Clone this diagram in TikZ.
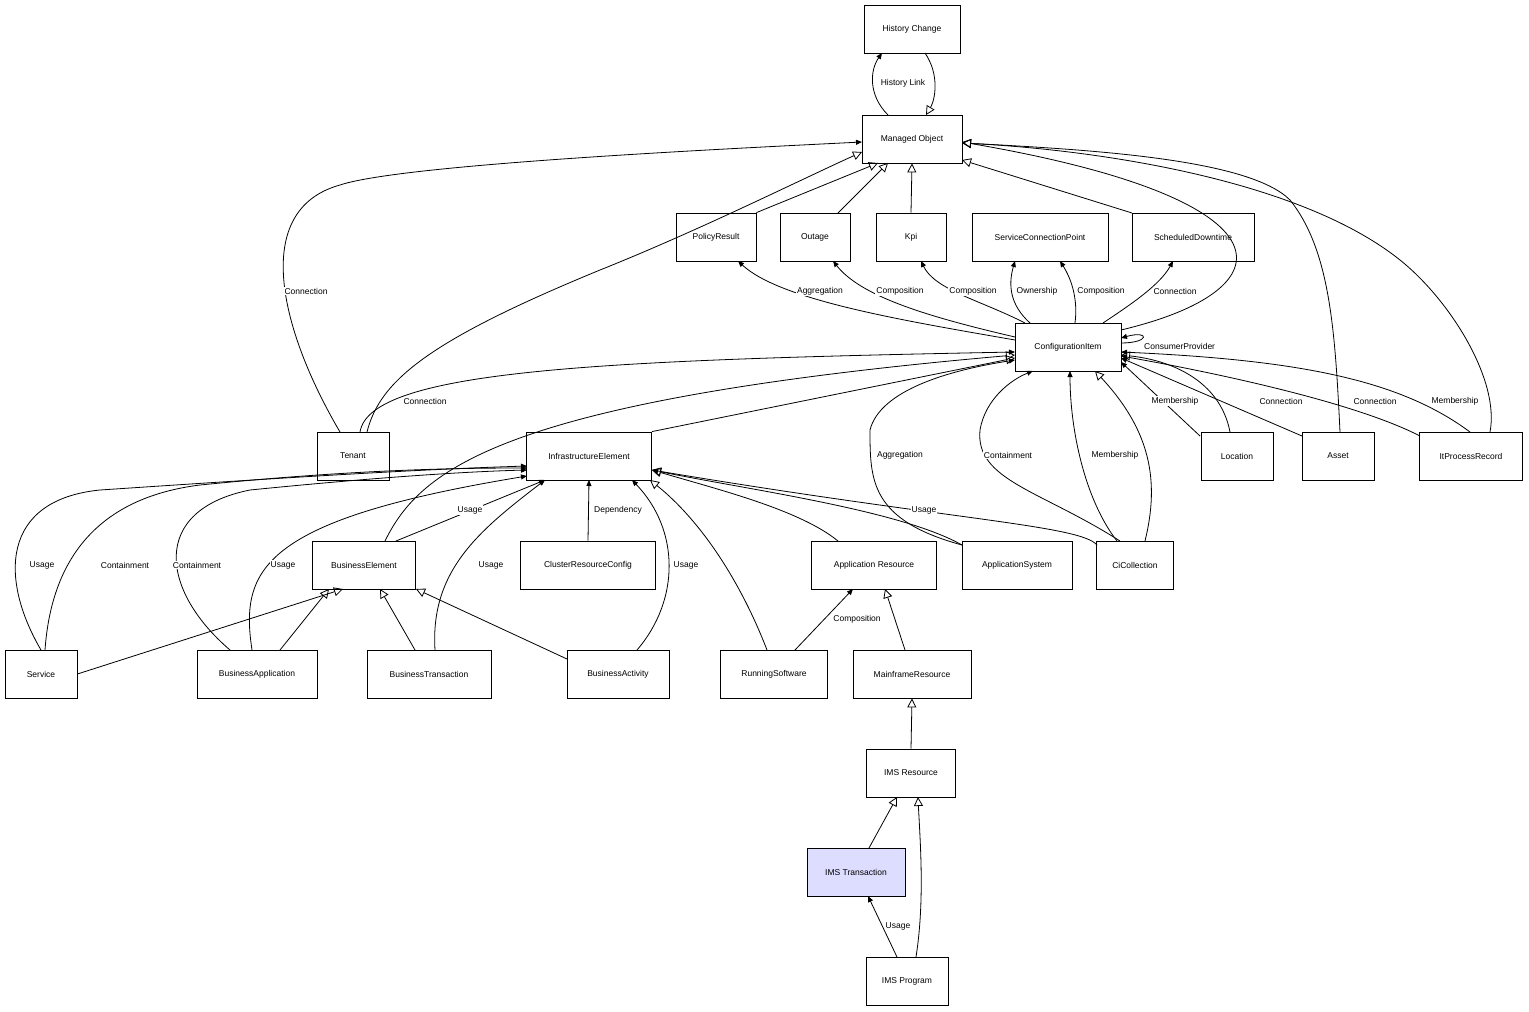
\documentclass[tikz,border=0pt]{standalone}
\usepackage{fontspec}
\setmainfont{Liberation Sans}
\usetikzlibrary{arrows.meta}
\begin{document}
\begin{tikzpicture}[x=1pt,y=-1pt,
    cls/.style={draw, thick, fill=white, minimum height=48pt, inner sep=0pt, font=\fontsize{8.5}{10}\selectfont},
    inh/.style={-{Triangle[open,length=9pt,width=9pt]}, thick},
    assoc/.style={-{Triangle[length=6pt,width=5pt]}, thick},
    lbl/.style={font=\fontsize{8.5}{10}\selectfont, fill=white, inner sep=1pt}]
    \useasboundingbox (0,0) rectangle (1529,1012);
    % Klassen
    \foreach \name/\x/\y/\w/\txt in {HC/912/29/96/History Change, MO/912/139/100/Managed Object,
        PR/716/237/80/PolicyResult, OU/815/237/70/Outage, KPI/911/237/70/Kpi,
        SCP/1040/237/136/ServiceConnectionPoint, SD/1193/237/122/ScheduledDowntime,
        CI/1068/347/106/ConfigurationItem, TE/353/456/72/Tenant, IE/589/456/125/InfrastructureElement,
        LO/1237/456/72/Location, AS/1338/456/72/Asset, IPR/1471/456/103/ItProcessRecord,
        BE/364/565/103/BusinessElement, CRC/588/565/135/ClusterResourceConfig,
        AR/874/565/125/Application Resource, ASY/1017/565/110/ApplicationSystem, CC/1135/565/77/CiCollection,
        SV/41/674/72/Service, BA/257/674/120/BusinessApplication, BT/429/674/124/BusinessTransaction,
        BAC/618/674/102/BusinessActivity, RS/774/674/107/RunningSoftware, MR/912/674/118/MainframeResource,
        IR/911/773/89/IMS Resource, IP/907/981/82/IMS Program} {
        \node[cls, minimum width=\w pt] (\name) at (\x,\y) {\txt};
    }
    \node[cls, minimum width=98pt, fill={rgb,255:red,221;green,221;blue,255}] (IT) at (856,872) {IMS Transaction};

    % Managed Object
    \draw[assoc] (888,115) .. controls (868,95) and (870,70) .. (882,53);
    \draw[inh] (925,53) .. controls (940,75) and (935,100) .. (926,115);
    \node[lbl] at (903,83) {History Link};
    \draw[inh] (PR.north east) -- (878,163);
    \draw[inh] (838,213) -- (888,163);
    \draw[inh] (KPI.north) -- (MO.south);
    \draw[inh] (1132,213) -- (962,160);
    \draw[assoc] (340,432) .. controls (280,330) and (250,210) .. (340,185) .. controls (400,165) and (700,150) .. (862,142);
    \node[lbl] at (306,291) {Connection};
    \draw[inh] (367,432) .. controls (380,380) and (430,340) .. (600,270) .. controls (700,230) and (800,180) .. (862,152);
    \draw[inh] (1121,330) .. controls (1290,290) and (1300,200) .. (962,142);
    \draw[inh] (1340,432) .. controls (1335,330) and (1330,250) .. (1290,200) .. controls (1250,160) and (1100,150) .. (962,143);
    \draw[inh] (1490,432) .. controls (1500,380) and (1450,300) .. (1400,260) .. controls (1300,180) and (1100,150) .. (962,143);

    % ConfigurationItem
    \draw[assoc] (1015,340) .. controls (900,320) and (780,300) .. (738,261);
    \node[lbl] at (820,291) {Aggregation};
    \draw[assoc] (1015,337) .. controls (920,315) and (860,295) .. (833,261);
    \node[lbl] at (900,291) {Composition};
    \draw[assoc] (1025,323) .. controls (980,300) and (935,290) .. (921,261);
    \node[lbl] at (973,291) {Composition};
    \draw[assoc] (1030,323) .. controls (1010,305) and (1008,285) .. (1015,261);
    \node[lbl] at (1037,291) {Ownership};
    \draw[assoc] (1075,323) .. controls (1078,300) and (1072,280) .. (1060,261);
    \node[lbl] at (1101,291) {Composition};
    \draw[assoc] (1103,323) .. controls (1130,305) and (1160,285) .. (1173,261);
    \node[lbl] at (1175,291) {Connection};
    \draw[assoc] (1121,343) .. controls (1150,343) and (1150,330) .. (1121,338);
    \node[lbl, anchor=west] at (1143,346) {ConsumerProvider};
    \draw[assoc] (360,432) .. controls (370,370) and (600,360) .. (1015,352);
    \node[lbl] at (425,401) {Connection};
    \draw[inh] (IE.north east) -- (1015,358);
    \draw[inh] (385,541) .. controls (420,470) and (500,400) .. (1015,355);
    \draw[assoc] (962,545) .. controls (870,520) and (870,480) .. (870,430) .. controls (880,390) and (950,370) .. (1015,360);
    \node[lbl] at (900,455) {Aggregation};
    \draw[assoc] (1120,541) .. controls (1040,490) and (975,480) .. (980,430) .. controls (985,400) and (1010,380) .. (1033,371);
    \node[lbl] at (1008,455) {Containment};
    \draw[assoc] (1117,541) .. controls (1085,500) and (1070,430) .. (1070,371);
    \node[lbl] at (1115,455) {Membership};
    \draw[inh] (1145,541) .. controls (1160,480) and (1150,430) .. (1095,371);
    \draw[assoc] (1200,436) -- (1121,362);
    \node[lbl] at (1175,401) {Membership};
    \draw[inh] (1230,432) .. controls (1220,380) and (1170,360) .. (1121,355);
    \draw[assoc] (1302,436) -- (1121,358);
    \node[lbl] at (1281,401) {Connection};
    \draw[assoc] (1420,436) .. controls (1350,400) and (1200,370) .. (1121,356);
    \node[lbl] at (1375,401) {Connection};
    \draw[assoc] (1470,432) .. controls (1400,380) and (1300,360) .. (1121,352);
    \node[lbl] at (1455,401) {Membership};

    % InfrastructureElement
    \draw[assoc] (41,650) .. controls (0,580) and (0,500) .. (100,490) .. controls (250,480) and (400,470) .. (527,466);
    \node[lbl] at (42,565) {Usage};
    \draw[assoc] (45,650) .. controls (50,580) and (80,500) .. (200,485) .. controls (350,470) and (450,468) .. (527,468);
    \node[lbl] at (125,565) {Containment};
    \draw[assoc] (230,650) .. controls (160,590) and (150,510) .. (250,490) .. controls (350,480) and (450,472) .. (527,470);
    \node[lbl] at (197,565) {Containment};
    \draw[assoc] (252,650) .. controls (240,570) and (260,520) .. (527,476);
    \node[lbl] at (283,565) {Usage};
    \draw[assoc] (396,541) -- (545,480);
    \node[lbl] at (470,510) {Usage};
    \draw[assoc] (435,650) .. controls (430,570) and (480,530) .. (545,480);
    \node[lbl] at (491,565) {Usage};
    \draw[assoc] (CRC.north) -- (589,480);
    \node[lbl] at (618,510) {Dependency};
    \draw[assoc] (637,650) .. controls (680,600) and (680,530) .. (632,480);
    \node[lbl] at (686,565) {Usage};
    \draw[inh] (767,650) .. controls (740,580) and (700,520) .. (650,480);
    \draw[inh] (838,541) .. controls (800,510) and (720,490) .. (652,470);
    \draw[inh] (962,545) .. controls (900,510) and (750,490) .. (652,470);
    \draw[assoc] (1097,545) .. controls (1080,525) and (950,520) .. (652,470);
    \node[lbl] at (924,510) {Usage};

    % BusinessElement
    \draw[inh] (SV.east) -- (343,589);
    \draw[inh] (280,650) -- (329,589);
    \draw[inh] (415,650) -- (380,589);
    \draw[inh] (567,659) -- (416,589);

    % ApplicationResource
    \draw[assoc] (795,650) -- (853,589);
    \node[lbl] at (857,619) {Composition};
    \draw[inh] (905,650) -- (885,589);
    \draw[inh] (IR.north) -- (MR.south);
    \draw[inh] (869,848) -- (897,797);
    \draw[inh] (916,957) .. controls (925,900) and (920,840) .. (918,797);
    \draw[assoc] (897,957) -- (868,896);
    \node[lbl] at (898,926) {Usage};
\end{tikzpicture}
\end{document}
